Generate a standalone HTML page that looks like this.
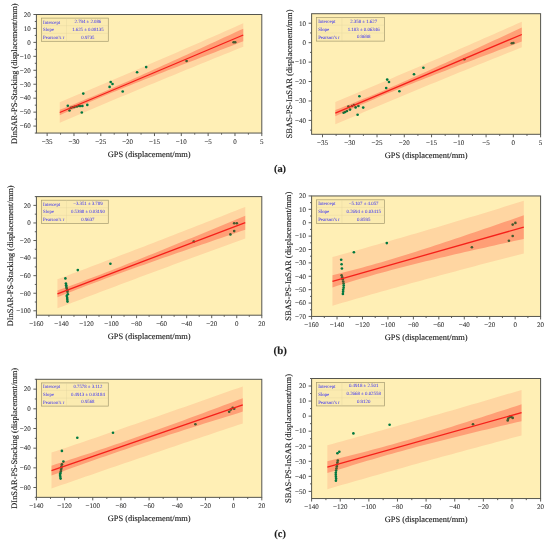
<!DOCTYPE html>
<html lang="en"><head><meta charset="utf-8"><title>Figure</title>
<style>html,body{margin:0;padding:0;background:#fff}svg{display:block;filter:blur(0.3px)}</style></head>
<body>
<svg width="550" height="542" viewBox="0 0 550 542">
<rect width="550" height="542" fill="#fff"/>
<g id="plot0">
<rect x="36.40" y="14.50" width="225.40" height="118.55" fill="#FFEFB5"/>
<path d="M59.75,102.23 L64.45,100.27 L69.16,98.30 L73.86,96.34 L78.57,94.36 L83.28,92.39 L87.98,90.41 L92.69,88.43 L97.39,86.44 L102.10,84.45 L106.81,82.46 L111.51,80.47 L116.22,78.47 L120.93,76.46 L125.63,74.46 L130.34,72.45 L135.04,70.43 L139.75,68.41 L144.46,66.39 L149.16,64.37 L153.87,62.34 L158.57,60.31 L163.28,58.28 L167.99,56.24 L172.69,54.20 L177.40,52.16 L182.11,50.11 L186.81,48.06 L191.52,46.01 L196.22,43.95 L200.93,41.89 L205.64,39.83 L210.34,37.77 L215.05,35.70 L219.75,33.63 L224.46,31.56 L229.17,29.49 L233.87,27.41 L238.58,25.33 L243.28,23.25 L243.28,46.72 L238.58,48.61 L233.87,50.51 L229.17,52.41 L224.46,54.31 L219.75,56.21 L215.05,58.12 L210.34,60.02 L205.64,61.94 L200.93,63.85 L196.22,65.77 L191.52,67.69 L186.81,69.61 L182.11,71.53 L177.40,73.46 L172.69,75.39 L167.99,77.33 L163.28,79.26 L158.57,81.21 L153.87,83.15 L149.16,85.10 L144.46,87.05 L139.75,89.00 L135.04,90.96 L130.34,92.92 L125.63,94.89 L120.93,96.85 L116.22,98.83 L111.51,100.80 L106.81,102.78 L102.10,104.76 L97.39,106.75 L92.69,108.74 L87.98,110.73 L83.28,112.73 L78.57,114.73 L73.86,116.73 L69.16,118.74 L64.45,120.75 L59.75,122.76Z" fill="rgba(255,20,10,0.108)"/>
<circle cx="67.8" cy="105.8" r="1.32" fill="#00783F"/>
<circle cx="69.5" cy="110.5" r="1.32" fill="#00783F"/>
<circle cx="70.9" cy="107.8" r="1.32" fill="#00783F"/>
<circle cx="72.7" cy="107.3" r="1.32" fill="#00783F"/>
<circle cx="74.5" cy="106.9" r="1.32" fill="#00783F"/>
<circle cx="76.9" cy="106.5" r="1.32" fill="#00783F"/>
<circle cx="79.1" cy="106.0" r="1.32" fill="#00783F"/>
<circle cx="80.5" cy="106.0" r="1.32" fill="#00783F"/>
<circle cx="82.4" cy="106.0" r="1.32" fill="#00783F"/>
<circle cx="81.8" cy="112.5" r="1.32" fill="#00783F"/>
<circle cx="87.3" cy="104.9" r="1.32" fill="#00783F"/>
<circle cx="83.3" cy="93.6" r="1.32" fill="#00783F"/>
<circle cx="109.6" cy="86.9" r="1.32" fill="#00783F"/>
<circle cx="110.7" cy="82.0" r="1.32" fill="#00783F"/>
<circle cx="112.5" cy="84.0" r="1.32" fill="#00783F"/>
<circle cx="122.7" cy="91.5" r="1.32" fill="#00783F"/>
<circle cx="137.1" cy="72.2" r="1.32" fill="#00783F"/>
<circle cx="146.2" cy="67.1" r="1.32" fill="#00783F"/>
<circle cx="186.6" cy="61.0" r="1.32" fill="#00783F"/>
<circle cx="233.6" cy="42.3" r="1.32" fill="#00783F"/>
<circle cx="235.2" cy="42.3" r="1.32" fill="#00783F"/>
<path d="M59.75,109.85 L64.45,107.96 L69.16,106.07 L73.86,104.17 L78.57,102.25 L83.28,100.32 L87.98,98.37 L92.69,96.41 L97.39,94.43 L102.10,92.44 L106.81,90.42 L111.51,88.40 L116.22,86.35 L120.93,84.30 L125.63,82.23 L130.34,80.15 L135.04,78.05 L139.75,75.95 L144.46,73.84 L149.16,71.73 L153.87,69.61 L158.57,67.48 L163.28,65.34 L167.99,63.21 L172.69,61.07 L177.40,58.92 L182.11,56.78 L186.81,54.63 L191.52,52.47 L196.22,50.32 L200.93,48.17 L205.64,46.01 L210.34,43.85 L215.05,41.69 L219.75,39.53 L224.46,37.37 L229.17,35.20 L233.87,33.04 L238.58,30.87 L243.28,28.71 L243.28,41.26 L238.58,43.07 L233.87,44.88 L229.17,46.69 L224.46,48.50 L219.75,50.31 L215.05,52.13 L210.34,53.94 L205.64,55.76 L200.93,57.58 L196.22,59.40 L191.52,61.22 L186.81,63.04 L182.11,64.87 L177.40,66.69 L172.69,68.53 L167.99,70.36 L163.28,72.20 L158.57,74.04 L153.87,75.89 L149.16,77.74 L144.46,79.60 L139.75,81.46 L135.04,83.34 L130.34,85.22 L125.63,87.11 L120.93,89.02 L116.22,90.94 L111.51,92.87 L106.81,94.82 L102.10,96.78 L97.39,98.76 L92.69,100.76 L87.98,102.77 L83.28,104.80 L78.57,106.84 L73.86,108.90 L69.16,110.97 L64.45,113.05 L59.75,115.15Z" fill="rgba(255,10,0,0.27)"/>
<line x1="59.75" y1="112.50" x2="243.28" y2="34.98" stroke="#F5201A" stroke-width="1.3"/>
<rect x="36.40" y="14.50" width="225.40" height="118.55" fill="none" stroke="#55554e" stroke-width="1.0"/>
<path d="M47.13,133.05v3 M73.97,133.05v3 M100.80,133.05v3 M127.63,133.05v3 M154.47,133.05v3 M181.30,133.05v3 M208.13,133.05v3 M234.97,133.05v3 M261.80,133.05v3 M60.55,133.05v1.6 M87.38,133.05v1.6 M114.22,133.05v1.6 M141.05,133.05v1.6 M167.88,133.05v1.6 M194.72,133.05v1.6 M221.55,133.05v1.6 M248.38,133.05v1.6 M36.40,126.08h-3 M36.40,112.13h-3 M36.40,98.18h-3 M36.40,84.24h-3 M36.40,70.29h-3 M36.40,56.34h-3 M36.40,42.39h-3 M36.40,28.45h-3 M36.40,14.50h-3 M36.40,133.05h-1.6 M36.40,119.10h-1.6 M36.40,105.16h-1.6 M36.40,91.21h-1.6 M36.40,77.26h-1.6 M36.40,63.31h-1.6 M36.40,49.37h-1.6 M36.40,35.42h-1.6 M36.40,21.47h-1.6" stroke="#55554e" stroke-width="0.95" fill="none"/>
<text x="47.13" y="143.75" font-size="7.0" text-anchor="middle" fill="#333" stroke="#333" stroke-width="0.08" font-family="'Liberation Serif','Times New Roman',serif" text-rendering="geometricPrecision">−35</text>
<text x="73.97" y="143.75" font-size="7.0" text-anchor="middle" fill="#333" stroke="#333" stroke-width="0.08" font-family="'Liberation Serif','Times New Roman',serif" text-rendering="geometricPrecision">−30</text>
<text x="100.80" y="143.75" font-size="7.0" text-anchor="middle" fill="#333" stroke="#333" stroke-width="0.08" font-family="'Liberation Serif','Times New Roman',serif" text-rendering="geometricPrecision">−25</text>
<text x="127.63" y="143.75" font-size="7.0" text-anchor="middle" fill="#333" stroke="#333" stroke-width="0.08" font-family="'Liberation Serif','Times New Roman',serif" text-rendering="geometricPrecision">−20</text>
<text x="154.47" y="143.75" font-size="7.0" text-anchor="middle" fill="#333" stroke="#333" stroke-width="0.08" font-family="'Liberation Serif','Times New Roman',serif" text-rendering="geometricPrecision">−15</text>
<text x="181.30" y="143.75" font-size="7.0" text-anchor="middle" fill="#333" stroke="#333" stroke-width="0.08" font-family="'Liberation Serif','Times New Roman',serif" text-rendering="geometricPrecision">−10</text>
<text x="208.13" y="143.75" font-size="7.0" text-anchor="middle" fill="#333" stroke="#333" stroke-width="0.08" font-family="'Liberation Serif','Times New Roman',serif" text-rendering="geometricPrecision">−5</text>
<text x="234.97" y="143.75" font-size="7.0" text-anchor="middle" fill="#333" stroke="#333" stroke-width="0.08" font-family="'Liberation Serif','Times New Roman',serif" text-rendering="geometricPrecision">0</text>
<text x="261.80" y="143.75" font-size="7.0" text-anchor="middle" fill="#333" stroke="#333" stroke-width="0.08" font-family="'Liberation Serif','Times New Roman',serif" text-rendering="geometricPrecision">5</text>
<text x="30.80" y="128.38" font-size="7.0" text-anchor="end" fill="#333" stroke="#333" stroke-width="0.08" font-family="'Liberation Serif','Times New Roman',serif" text-rendering="geometricPrecision">−60</text>
<text x="30.80" y="114.43" font-size="7.0" text-anchor="end" fill="#333" stroke="#333" stroke-width="0.08" font-family="'Liberation Serif','Times New Roman',serif" text-rendering="geometricPrecision">−50</text>
<text x="30.80" y="100.48" font-size="7.0" text-anchor="end" fill="#333" stroke="#333" stroke-width="0.08" font-family="'Liberation Serif','Times New Roman',serif" text-rendering="geometricPrecision">−40</text>
<text x="30.80" y="86.54" font-size="7.0" text-anchor="end" fill="#333" stroke="#333" stroke-width="0.08" font-family="'Liberation Serif','Times New Roman',serif" text-rendering="geometricPrecision">−30</text>
<text x="30.80" y="72.59" font-size="7.0" text-anchor="end" fill="#333" stroke="#333" stroke-width="0.08" font-family="'Liberation Serif','Times New Roman',serif" text-rendering="geometricPrecision">−20</text>
<text x="30.80" y="58.64" font-size="7.0" text-anchor="end" fill="#333" stroke="#333" stroke-width="0.08" font-family="'Liberation Serif','Times New Roman',serif" text-rendering="geometricPrecision">−10</text>
<text x="30.80" y="44.69" font-size="7.0" text-anchor="end" fill="#333" stroke="#333" stroke-width="0.08" font-family="'Liberation Serif','Times New Roman',serif" text-rendering="geometricPrecision">0</text>
<text x="30.80" y="30.75" font-size="7.0" text-anchor="end" fill="#333" stroke="#333" stroke-width="0.08" font-family="'Liberation Serif','Times New Roman',serif" text-rendering="geometricPrecision">10</text>
<text x="30.80" y="16.80" font-size="7.0" text-anchor="end" fill="#333" stroke="#333" stroke-width="0.08" font-family="'Liberation Serif','Times New Roman',serif" text-rendering="geometricPrecision">20</text>
<text x="149.10" y="156.95" font-size="8.4" text-anchor="middle" textLength="82.8" lengthAdjust="spacingAndGlyphs" fill="#1c1c1c" stroke="#1c1c1c" stroke-width="0.13" font-family="'Liberation Serif','Times New Roman',serif" text-rendering="geometricPrecision">GPS (displacement/mm)</text>
<text transform="translate(16.50,73.78) rotate(-90)" font-size="8.4" text-anchor="middle" textLength="140.7" lengthAdjust="spacingAndGlyphs" fill="#1c1c1c" stroke="#1c1c1c" stroke-width="0.13" font-family="'Liberation Serif','Times New Roman',serif" text-rendering="geometricPrecision">DInSAR-PS-Stacking (displacement/mm)</text>
<rect x="41.50" y="18.10" width="66.80" height="23.20" fill="#FBEBB0" stroke="#a59b70" stroke-width="0.7"/>
<path d="M41.50,25.60h66.80 M41.50,33.30h66.80 M66.50,18.10v23.20" stroke="#ddd09c" stroke-width="0.3" fill="none"/>
<text x="43.10" y="23.60" font-size="4.80" fill="#4038F2" stroke="#4038F2" stroke-width="0.03" font-family="'Liberation Serif','Times New Roman',serif" text-rendering="geometricPrecision">Intercept</text>
<text x="87.90" y="23.10" font-size="4.80" text-anchor="middle" fill="#4038F2" stroke="#4038F2" stroke-width="0.03" font-family="'Liberation Serif','Times New Roman',serif" text-rendering="geometricPrecision">2.794 ± 2.086</text>
<text x="43.10" y="31.35" font-size="4.80" fill="#4038F2" stroke="#4038F2" stroke-width="0.03" font-family="'Liberation Serif','Times New Roman',serif" text-rendering="geometricPrecision">Slope</text>
<text x="87.90" y="30.85" font-size="4.80" text-anchor="middle" fill="#4038F2" stroke="#4038F2" stroke-width="0.03" font-family="'Liberation Serif','Times New Roman',serif" text-rendering="geometricPrecision">1.625 ± 0.08135</text>
<text x="43.10" y="39.10" font-size="4.80" fill="#4038F2" stroke="#4038F2" stroke-width="0.03" font-family="'Liberation Serif','Times New Roman',serif" text-rendering="geometricPrecision">Pearson’s r</text>
<text x="87.90" y="38.60" font-size="4.80" text-anchor="middle" fill="#4038F2" stroke="#4038F2" stroke-width="0.03" font-family="'Liberation Serif','Times New Roman',serif" text-rendering="geometricPrecision">0.9735</text>
</g>
<g id="plot1">
<rect x="311.60" y="13.70" width="229.00" height="120.60" fill="#FFEFB5"/>
<path d="M335.32,101.93 L340.10,99.95 L344.88,97.97 L349.66,95.98 L354.44,93.99 L359.22,91.99 L364.01,89.99 L368.79,87.99 L373.57,85.98 L378.35,83.97 L383.13,81.95 L387.91,79.93 L392.69,77.90 L397.48,75.87 L402.26,73.83 L407.04,71.79 L411.82,69.75 L416.60,67.70 L421.38,65.65 L426.16,63.59 L430.94,61.53 L435.73,59.47 L440.51,57.40 L445.29,55.32 L450.07,53.25 L454.85,51.17 L459.63,49.08 L464.41,46.99 L469.19,44.90 L473.98,42.80 L478.76,40.70 L483.54,38.60 L488.32,36.49 L493.10,34.38 L497.88,32.27 L502.66,30.16 L507.45,28.04 L512.23,25.91 L517.01,23.79 L521.79,21.66 L521.79,47.37 L517.01,49.27 L512.23,51.18 L507.45,53.09 L502.66,55.00 L497.88,56.92 L493.10,58.84 L488.32,60.76 L483.54,62.68 L478.76,64.61 L473.98,66.55 L469.19,68.48 L464.41,70.42 L459.63,72.37 L454.85,74.32 L450.07,76.27 L445.29,78.22 L440.51,80.18 L435.73,82.15 L430.94,84.11 L426.16,86.08 L421.38,88.06 L416.60,90.04 L411.82,92.02 L407.04,94.01 L402.26,96.01 L397.48,98.00 L392.69,100.00 L387.91,102.01 L383.13,104.02 L378.35,106.04 L373.57,108.06 L368.79,110.08 L364.01,112.11 L359.22,114.14 L354.44,116.18 L349.66,118.22 L344.88,120.26 L340.10,122.31 L335.32,124.37Z" fill="rgba(255,20,10,0.108)"/>
<circle cx="343.6" cy="112.8" r="1.32" fill="#00783F"/>
<circle cx="345.2" cy="112.0" r="1.32" fill="#00783F"/>
<circle cx="347.0" cy="111.0" r="1.32" fill="#00783F"/>
<circle cx="348.4" cy="106.6" r="1.32" fill="#00783F"/>
<circle cx="350.0" cy="109.6" r="1.32" fill="#00783F"/>
<circle cx="352.0" cy="106.0" r="1.32" fill="#00783F"/>
<circle cx="354.0" cy="105.0" r="1.32" fill="#00783F"/>
<circle cx="355.6" cy="107.4" r="1.32" fill="#00783F"/>
<circle cx="358.4" cy="106.0" r="1.32" fill="#00783F"/>
<circle cx="357.6" cy="114.8" r="1.32" fill="#00783F"/>
<circle cx="363.2" cy="107.6" r="1.32" fill="#00783F"/>
<circle cx="359.4" cy="96.2" r="1.32" fill="#00783F"/>
<circle cx="386.2" cy="88.0" r="1.32" fill="#00783F"/>
<circle cx="387.2" cy="79.6" r="1.32" fill="#00783F"/>
<circle cx="389.0" cy="82.0" r="1.32" fill="#00783F"/>
<circle cx="399.4" cy="91.2" r="1.32" fill="#00783F"/>
<circle cx="414.0" cy="74.2" r="1.32" fill="#00783F"/>
<circle cx="423.4" cy="67.8" r="1.32" fill="#00783F"/>
<circle cx="464.3" cy="59.3" r="1.32" fill="#00783F"/>
<circle cx="511.8" cy="43.2" r="1.32" fill="#00783F"/>
<circle cx="513.4" cy="43.0" r="1.32" fill="#00783F"/>
<path d="M335.32,110.04 L340.10,108.16 L344.88,106.27 L349.66,104.38 L354.44,102.46 L359.22,100.54 L364.01,98.59 L368.79,96.63 L373.57,94.65 L378.35,92.65 L383.13,90.63 L387.91,88.58 L392.69,86.52 L397.48,84.44 L402.26,82.34 L407.04,80.22 L411.82,78.09 L416.60,75.95 L421.38,73.80 L426.16,71.64 L430.94,69.47 L435.73,67.29 L440.51,65.11 L445.29,62.92 L450.07,60.73 L454.85,58.53 L459.63,56.33 L464.41,54.12 L469.19,51.91 L473.98,49.70 L478.76,47.49 L483.54,45.28 L488.32,43.06 L493.10,40.85 L497.88,38.63 L502.66,36.41 L507.45,34.19 L512.23,31.96 L517.01,29.74 L521.79,27.52 L521.79,41.51 L517.01,43.32 L512.23,45.13 L507.45,46.94 L502.66,48.75 L497.88,50.56 L493.10,52.38 L488.32,54.19 L483.54,56.01 L478.76,57.83 L473.98,59.65 L469.19,61.47 L464.41,63.29 L459.63,65.12 L454.85,66.95 L450.07,68.79 L445.29,70.63 L440.51,72.47 L435.73,74.32 L430.94,76.17 L426.16,78.04 L421.38,79.91 L416.60,81.79 L411.82,83.68 L407.04,85.58 L402.26,87.50 L397.48,89.43 L392.69,91.39 L387.91,93.35 L383.13,95.34 L378.35,97.35 L373.57,99.39 L368.79,101.44 L364.01,103.51 L359.22,105.60 L354.44,107.70 L349.66,109.82 L344.88,111.96 L340.10,114.10 L335.32,116.26Z" fill="rgba(255,10,0,0.27)"/>
<line x1="335.32" y1="113.15" x2="521.79" y2="34.51" stroke="#F5201A" stroke-width="1.3"/>
<rect x="311.60" y="13.70" width="229.00" height="120.60" fill="none" stroke="#55554e" stroke-width="1.0"/>
<path d="M322.50,134.30v3 M349.77,134.30v3 M377.03,134.30v3 M404.29,134.30v3 M431.55,134.30v3 M458.81,134.30v3 M486.08,134.30v3 M513.34,134.30v3 M540.60,134.30v3 M336.14,134.30v1.6 M363.40,134.30v1.6 M390.66,134.30v1.6 M417.92,134.30v1.6 M445.18,134.30v1.6 M472.45,134.30v1.6 M499.71,134.30v1.6 M526.97,134.30v1.6 M311.60,120.40h-3 M311.60,100.97h-3 M311.60,81.53h-3 M311.60,62.10h-3 M311.60,42.66h-3 M311.60,23.22h-3 M311.60,130.12h-1.6 M311.60,110.69h-1.6 M311.60,91.25h-1.6 M311.60,71.81h-1.6 M311.60,52.38h-1.6 M311.60,32.94h-1.6" stroke="#55554e" stroke-width="0.95" fill="none"/>
<text x="322.50" y="145.00" font-size="7.0" text-anchor="middle" fill="#333" stroke="#333" stroke-width="0.08" font-family="'Liberation Serif','Times New Roman',serif" text-rendering="geometricPrecision">−35</text>
<text x="349.77" y="145.00" font-size="7.0" text-anchor="middle" fill="#333" stroke="#333" stroke-width="0.08" font-family="'Liberation Serif','Times New Roman',serif" text-rendering="geometricPrecision">−30</text>
<text x="377.03" y="145.00" font-size="7.0" text-anchor="middle" fill="#333" stroke="#333" stroke-width="0.08" font-family="'Liberation Serif','Times New Roman',serif" text-rendering="geometricPrecision">−25</text>
<text x="404.29" y="145.00" font-size="7.0" text-anchor="middle" fill="#333" stroke="#333" stroke-width="0.08" font-family="'Liberation Serif','Times New Roman',serif" text-rendering="geometricPrecision">−20</text>
<text x="431.55" y="145.00" font-size="7.0" text-anchor="middle" fill="#333" stroke="#333" stroke-width="0.08" font-family="'Liberation Serif','Times New Roman',serif" text-rendering="geometricPrecision">−15</text>
<text x="458.81" y="145.00" font-size="7.0" text-anchor="middle" fill="#333" stroke="#333" stroke-width="0.08" font-family="'Liberation Serif','Times New Roman',serif" text-rendering="geometricPrecision">−10</text>
<text x="486.08" y="145.00" font-size="7.0" text-anchor="middle" fill="#333" stroke="#333" stroke-width="0.08" font-family="'Liberation Serif','Times New Roman',serif" text-rendering="geometricPrecision">−5</text>
<text x="513.34" y="145.00" font-size="7.0" text-anchor="middle" fill="#333" stroke="#333" stroke-width="0.08" font-family="'Liberation Serif','Times New Roman',serif" text-rendering="geometricPrecision">0</text>
<text x="540.60" y="145.00" font-size="7.0" text-anchor="middle" fill="#333" stroke="#333" stroke-width="0.08" font-family="'Liberation Serif','Times New Roman',serif" text-rendering="geometricPrecision">5</text>
<text x="306.00" y="122.70" font-size="7.0" text-anchor="end" fill="#333" stroke="#333" stroke-width="0.08" font-family="'Liberation Serif','Times New Roman',serif" text-rendering="geometricPrecision">−40</text>
<text x="306.00" y="103.27" font-size="7.0" text-anchor="end" fill="#333" stroke="#333" stroke-width="0.08" font-family="'Liberation Serif','Times New Roman',serif" text-rendering="geometricPrecision">−30</text>
<text x="306.00" y="83.83" font-size="7.0" text-anchor="end" fill="#333" stroke="#333" stroke-width="0.08" font-family="'Liberation Serif','Times New Roman',serif" text-rendering="geometricPrecision">−20</text>
<text x="306.00" y="64.40" font-size="7.0" text-anchor="end" fill="#333" stroke="#333" stroke-width="0.08" font-family="'Liberation Serif','Times New Roman',serif" text-rendering="geometricPrecision">−10</text>
<text x="306.00" y="44.96" font-size="7.0" text-anchor="end" fill="#333" stroke="#333" stroke-width="0.08" font-family="'Liberation Serif','Times New Roman',serif" text-rendering="geometricPrecision">0</text>
<text x="306.00" y="25.52" font-size="7.0" text-anchor="end" fill="#333" stroke="#333" stroke-width="0.08" font-family="'Liberation Serif','Times New Roman',serif" text-rendering="geometricPrecision">10</text>
<text x="426.10" y="158.20" font-size="8.4" text-anchor="middle" textLength="82.8" lengthAdjust="spacingAndGlyphs" fill="#1c1c1c" stroke="#1c1c1c" stroke-width="0.13" font-family="'Liberation Serif','Times New Roman',serif" text-rendering="geometricPrecision">GPS (displacement/mm)</text>
<text transform="translate(291.70,74.00) rotate(-90)" font-size="8.4" text-anchor="middle" textLength="129.0" lengthAdjust="spacingAndGlyphs" fill="#1c1c1c" stroke="#1c1c1c" stroke-width="0.13" font-family="'Liberation Serif','Times New Roman',serif" text-rendering="geometricPrecision">SBAS-PS-InSAR (displacement/mm)</text>
<rect x="316.53" y="17.56" width="67.87" height="23.57" fill="#FBEBB0" stroke="#a59b70" stroke-width="0.7"/>
<path d="M316.53,25.18h67.87 M316.53,33.00h67.87 M341.93,17.56v23.57" stroke="#ddd09c" stroke-width="0.3" fill="none"/>
<text x="318.16" y="23.15" font-size="4.88" fill="#4038F2" stroke="#4038F2" stroke-width="0.03" font-family="'Liberation Serif','Times New Roman',serif" text-rendering="geometricPrecision">Intercept</text>
<text x="363.67" y="22.65" font-size="4.88" text-anchor="middle" fill="#4038F2" stroke="#4038F2" stroke-width="0.03" font-family="'Liberation Serif','Times New Roman',serif" text-rendering="geometricPrecision">2.358 ± 1.627</text>
<text x="318.16" y="31.02" font-size="4.88" fill="#4038F2" stroke="#4038F2" stroke-width="0.03" font-family="'Liberation Serif','Times New Roman',serif" text-rendering="geometricPrecision">Slope</text>
<text x="363.67" y="30.52" font-size="4.88" text-anchor="middle" fill="#4038F2" stroke="#4038F2" stroke-width="0.03" font-family="'Liberation Serif','Times New Roman',serif" text-rendering="geometricPrecision">1.183 ± 0.06346</text>
<text x="318.16" y="38.89" font-size="4.88" fill="#4038F2" stroke="#4038F2" stroke-width="0.03" font-family="'Liberation Serif','Times New Roman',serif" text-rendering="geometricPrecision">Pearson’s r</text>
<text x="363.67" y="38.39" font-size="4.88" text-anchor="middle" fill="#4038F2" stroke="#4038F2" stroke-width="0.03" font-family="'Liberation Serif','Times New Roman',serif" text-rendering="geometricPrecision">0.9698</text>
</g>
<g id="plot2">
<rect x="36.40" y="196.60" width="225.40" height="118.60" fill="#FFEFB5"/>
<path d="M57.44,279.29 L62.25,277.48 L67.07,275.68 L71.89,273.87 L76.70,272.05 L81.52,270.24 L86.33,268.42 L91.15,266.60 L95.97,264.77 L100.78,262.95 L105.60,261.12 L110.42,259.28 L115.23,257.45 L120.05,255.61 L124.86,253.77 L129.68,251.92 L134.50,250.08 L139.31,248.23 L144.13,246.38 L148.95,244.52 L153.76,242.66 L158.58,240.80 L163.39,238.94 L168.21,237.08 L173.03,235.21 L177.84,233.34 L182.66,231.46 L187.48,229.59 L192.29,227.71 L197.11,225.83 L201.92,223.95 L206.74,222.06 L211.56,220.17 L216.37,218.28 L221.19,216.39 L226.01,214.49 L230.82,212.60 L235.64,210.70 L240.45,208.80 L245.27,206.89 L245.27,238.46 L240.45,240.20 L235.64,241.95 L230.82,243.70 L226.01,245.45 L221.19,247.20 L216.37,248.95 L211.56,250.71 L206.74,252.47 L201.92,254.23 L197.11,256.00 L192.29,257.77 L187.48,259.54 L182.66,261.31 L177.84,263.08 L173.03,264.86 L168.21,266.64 L163.39,268.42 L158.58,270.21 L153.76,271.99 L148.95,273.78 L144.13,275.58 L139.31,277.37 L134.50,279.17 L129.68,280.97 L124.86,282.78 L120.05,284.58 L115.23,286.39 L110.42,288.21 L105.60,290.02 L100.78,291.84 L95.97,293.66 L91.15,295.49 L86.33,297.31 L81.52,299.14 L76.70,300.97 L71.89,302.81 L67.07,304.65 L62.25,306.49 L57.44,308.33Z" fill="rgba(255,20,10,0.108)"/>
<circle cx="65.4" cy="278.4" r="1.32" fill="#00783F"/>
<circle cx="65.9" cy="283.6" r="1.32" fill="#00783F"/>
<circle cx="66.2" cy="285.3" r="1.32" fill="#00783F"/>
<circle cx="66.4" cy="286.9" r="1.32" fill="#00783F"/>
<circle cx="66.7" cy="288.5" r="1.32" fill="#00783F"/>
<circle cx="67.2" cy="290.2" r="1.32" fill="#00783F"/>
<circle cx="67.5" cy="291.8" r="1.32" fill="#00783F"/>
<circle cx="67.8" cy="294.3" r="1.32" fill="#00783F"/>
<circle cx="66.8" cy="295.9" r="1.32" fill="#00783F"/>
<circle cx="67.2" cy="297.9" r="1.32" fill="#00783F"/>
<circle cx="67.3" cy="299.7" r="1.32" fill="#00783F"/>
<circle cx="67.5" cy="301.6" r="1.32" fill="#00783F"/>
<circle cx="77.8" cy="270.1" r="1.32" fill="#00783F"/>
<circle cx="110.4" cy="263.7" r="1.32" fill="#00783F"/>
<circle cx="234.2" cy="223.2" r="1.32" fill="#00783F"/>
<circle cx="236.8" cy="223.2" r="1.32" fill="#00783F"/>
<circle cx="234.2" cy="231.1" r="1.32" fill="#00783F"/>
<circle cx="230.4" cy="234.4" r="1.32" fill="#00783F"/>
<circle cx="193.8" cy="241.6" r="1.32" fill="#00783F"/>
<path d="M57.44,290.47 L62.25,288.73 L67.07,286.98 L71.89,285.22 L76.70,283.45 L81.52,281.66 L86.33,279.87 L91.15,278.05 L95.97,276.23 L100.78,274.39 L105.60,272.54 L110.42,270.67 L115.23,268.80 L120.05,266.91 L124.86,265.01 L129.68,263.09 L134.50,261.17 L139.31,259.25 L144.13,257.31 L148.95,255.36 L153.76,253.41 L158.58,251.46 L163.39,249.49 L168.21,247.52 L173.03,245.55 L177.84,243.58 L182.66,241.60 L187.48,239.61 L192.29,237.63 L197.11,235.64 L201.92,233.65 L206.74,231.65 L211.56,229.66 L216.37,227.66 L221.19,225.66 L226.01,223.66 L230.82,221.66 L235.64,219.66 L240.45,217.65 L245.27,215.65 L245.27,229.70 L240.45,231.35 L235.64,232.99 L230.82,234.63 L226.01,236.28 L221.19,237.93 L216.37,239.57 L211.56,241.23 L206.74,242.88 L201.92,244.53 L197.11,246.19 L192.29,247.85 L187.48,249.51 L182.66,251.17 L177.84,252.84 L173.03,254.51 L168.21,256.19 L163.39,257.87 L158.58,259.56 L153.76,261.25 L148.95,262.94 L144.13,264.65 L139.31,266.36 L134.50,268.08 L129.68,269.80 L124.86,271.54 L120.05,273.29 L115.23,275.05 L110.42,276.82 L105.60,278.60 L100.78,280.40 L95.97,282.21 L91.15,284.03 L86.33,285.86 L81.52,287.71 L76.70,289.58 L71.89,291.45 L67.07,293.34 L62.25,295.24 L57.44,297.15Z" fill="rgba(255,10,0,0.27)"/>
<line x1="57.44" y1="293.81" x2="245.27" y2="222.67" stroke="#F5201A" stroke-width="1.3"/>
<rect x="36.40" y="196.60" width="225.40" height="118.60" fill="none" stroke="#55554e" stroke-width="1.0"/>
<path d="M36.40,315.20v3 M61.44,315.20v3 M86.49,315.20v3 M111.53,315.20v3 M136.58,315.20v3 M161.62,315.20v3 M186.67,315.20v3 M211.71,315.20v3 M236.76,315.20v3 M261.80,315.20v3 M48.92,315.20v1.6 M73.97,315.20v1.6 M99.01,315.20v1.6 M124.06,315.20v1.6 M149.10,315.20v1.6 M174.14,315.20v1.6 M199.19,315.20v1.6 M224.23,315.20v1.6 M249.28,315.20v1.6 M36.40,310.81h-3 M36.40,293.24h-3 M36.40,275.67h-3 M36.40,258.10h-3 M36.40,240.53h-3 M36.40,222.96h-3 M36.40,205.39h-3 M36.40,302.02h-1.6 M36.40,284.45h-1.6 M36.40,266.88h-1.6 M36.40,249.31h-1.6 M36.40,231.74h-1.6 M36.40,214.17h-1.6 M36.40,196.60h-1.6" stroke="#55554e" stroke-width="0.95" fill="none"/>
<text x="36.40" y="325.90" font-size="7.0" text-anchor="middle" fill="#333" stroke="#333" stroke-width="0.08" font-family="'Liberation Serif','Times New Roman',serif" text-rendering="geometricPrecision">−160</text>
<text x="61.44" y="325.90" font-size="7.0" text-anchor="middle" fill="#333" stroke="#333" stroke-width="0.08" font-family="'Liberation Serif','Times New Roman',serif" text-rendering="geometricPrecision">−140</text>
<text x="86.49" y="325.90" font-size="7.0" text-anchor="middle" fill="#333" stroke="#333" stroke-width="0.08" font-family="'Liberation Serif','Times New Roman',serif" text-rendering="geometricPrecision">−120</text>
<text x="111.53" y="325.90" font-size="7.0" text-anchor="middle" fill="#333" stroke="#333" stroke-width="0.08" font-family="'Liberation Serif','Times New Roman',serif" text-rendering="geometricPrecision">−100</text>
<text x="136.58" y="325.90" font-size="7.0" text-anchor="middle" fill="#333" stroke="#333" stroke-width="0.08" font-family="'Liberation Serif','Times New Roman',serif" text-rendering="geometricPrecision">−80</text>
<text x="161.62" y="325.90" font-size="7.0" text-anchor="middle" fill="#333" stroke="#333" stroke-width="0.08" font-family="'Liberation Serif','Times New Roman',serif" text-rendering="geometricPrecision">−60</text>
<text x="186.67" y="325.90" font-size="7.0" text-anchor="middle" fill="#333" stroke="#333" stroke-width="0.08" font-family="'Liberation Serif','Times New Roman',serif" text-rendering="geometricPrecision">−40</text>
<text x="211.71" y="325.90" font-size="7.0" text-anchor="middle" fill="#333" stroke="#333" stroke-width="0.08" font-family="'Liberation Serif','Times New Roman',serif" text-rendering="geometricPrecision">−20</text>
<text x="236.76" y="325.90" font-size="7.0" text-anchor="middle" fill="#333" stroke="#333" stroke-width="0.08" font-family="'Liberation Serif','Times New Roman',serif" text-rendering="geometricPrecision">0</text>
<text x="261.80" y="325.90" font-size="7.0" text-anchor="middle" fill="#333" stroke="#333" stroke-width="0.08" font-family="'Liberation Serif','Times New Roman',serif" text-rendering="geometricPrecision">20</text>
<text x="30.80" y="313.11" font-size="7.0" text-anchor="end" fill="#333" stroke="#333" stroke-width="0.08" font-family="'Liberation Serif','Times New Roman',serif" text-rendering="geometricPrecision">−100</text>
<text x="30.80" y="295.54" font-size="7.0" text-anchor="end" fill="#333" stroke="#333" stroke-width="0.08" font-family="'Liberation Serif','Times New Roman',serif" text-rendering="geometricPrecision">−80</text>
<text x="30.80" y="277.97" font-size="7.0" text-anchor="end" fill="#333" stroke="#333" stroke-width="0.08" font-family="'Liberation Serif','Times New Roman',serif" text-rendering="geometricPrecision">−60</text>
<text x="30.80" y="260.40" font-size="7.0" text-anchor="end" fill="#333" stroke="#333" stroke-width="0.08" font-family="'Liberation Serif','Times New Roman',serif" text-rendering="geometricPrecision">−40</text>
<text x="30.80" y="242.83" font-size="7.0" text-anchor="end" fill="#333" stroke="#333" stroke-width="0.08" font-family="'Liberation Serif','Times New Roman',serif" text-rendering="geometricPrecision">−20</text>
<text x="30.80" y="225.26" font-size="7.0" text-anchor="end" fill="#333" stroke="#333" stroke-width="0.08" font-family="'Liberation Serif','Times New Roman',serif" text-rendering="geometricPrecision">0</text>
<text x="30.80" y="207.69" font-size="7.0" text-anchor="end" fill="#333" stroke="#333" stroke-width="0.08" font-family="'Liberation Serif','Times New Roman',serif" text-rendering="geometricPrecision">20</text>
<text x="149.10" y="339.10" font-size="8.4" text-anchor="middle" textLength="82.8" lengthAdjust="spacingAndGlyphs" fill="#1c1c1c" stroke="#1c1c1c" stroke-width="0.13" font-family="'Liberation Serif','Times New Roman',serif" text-rendering="geometricPrecision">GPS (displacement/mm)</text>
<text transform="translate(13.10,255.90) rotate(-90)" font-size="8.4" text-anchor="middle" textLength="140.7" lengthAdjust="spacingAndGlyphs" fill="#1c1c1c" stroke="#1c1c1c" stroke-width="0.13" font-family="'Liberation Serif','Times New Roman',serif" text-rendering="geometricPrecision">DInSAR-PS-Stacking (displacement/mm)</text>
<rect x="41.50" y="200.20" width="66.80" height="23.20" fill="#FBEBB0" stroke="#a59b70" stroke-width="0.7"/>
<path d="M41.50,207.70h66.80 M41.50,215.40h66.80 M66.50,200.20v23.20" stroke="#ddd09c" stroke-width="0.3" fill="none"/>
<text x="43.10" y="205.70" font-size="4.80" fill="#4038F2" stroke="#4038F2" stroke-width="0.03" font-family="'Liberation Serif','Times New Roman',serif" text-rendering="geometricPrecision">Intercept</text>
<text x="87.90" y="205.20" font-size="4.80" text-anchor="middle" fill="#4038F2" stroke="#4038F2" stroke-width="0.03" font-family="'Liberation Serif','Times New Roman',serif" text-rendering="geometricPrecision">−3.351 ± 3.789</text>
<text x="43.10" y="213.45" font-size="4.80" fill="#4038F2" stroke="#4038F2" stroke-width="0.03" font-family="'Liberation Serif','Times New Roman',serif" text-rendering="geometricPrecision">Slope</text>
<text x="87.90" y="212.95" font-size="4.80" text-anchor="middle" fill="#4038F2" stroke="#4038F2" stroke-width="0.03" font-family="'Liberation Serif','Times New Roman',serif" text-rendering="geometricPrecision">0.5398 ± 0.03190</text>
<text x="43.10" y="221.20" font-size="4.80" fill="#4038F2" stroke="#4038F2" stroke-width="0.03" font-family="'Liberation Serif','Times New Roman',serif" text-rendering="geometricPrecision">Pearson’s r</text>
<text x="87.90" y="220.70" font-size="4.80" text-anchor="middle" fill="#4038F2" stroke="#4038F2" stroke-width="0.03" font-family="'Liberation Serif','Times New Roman',serif" text-rendering="geometricPrecision">0.9637</text>
</g>
<g id="plot3">
<rect x="311.60" y="195.95" width="229.00" height="120.50" fill="#FFEFB5"/>
<path d="M332.46,257.06 L337.37,255.71 L342.28,254.35 L347.18,252.99 L352.09,251.62 L357.00,250.25 L361.90,248.88 L366.81,247.50 L371.71,246.11 L376.62,244.72 L381.53,243.32 L386.43,241.92 L391.34,240.52 L396.25,239.10 L401.15,237.69 L406.06,236.27 L410.96,234.84 L415.87,233.41 L420.78,231.98 L425.68,230.54 L430.59,229.09 L435.49,227.64 L440.40,226.19 L445.31,224.73 L450.21,223.27 L455.12,221.80 L460.03,220.32 L464.93,218.85 L469.84,217.37 L474.74,215.88 L479.65,214.39 L484.56,212.89 L489.46,211.40 L494.37,209.89 L499.28,208.38 L504.18,206.87 L509.09,205.36 L513.99,203.84 L518.90,202.31 L523.81,200.79 L523.81,253.44 L518.90,254.69 L513.99,255.95 L509.09,257.21 L504.18,258.48 L499.28,259.75 L494.37,261.03 L489.46,262.30 L484.56,263.59 L479.65,264.87 L474.74,266.17 L469.84,267.46 L464.93,268.76 L460.03,270.07 L455.12,271.38 L450.21,272.69 L445.31,274.01 L440.40,275.33 L435.49,276.66 L430.59,277.99 L425.68,279.33 L420.78,280.67 L415.87,282.02 L410.96,283.37 L406.06,284.72 L401.15,286.09 L396.25,287.45 L391.34,288.82 L386.43,290.20 L381.53,291.58 L376.62,292.97 L371.71,294.36 L366.81,295.75 L361.90,297.15 L357.00,298.56 L352.09,299.97 L347.18,301.39 L342.28,302.81 L337.37,304.23 L332.46,305.66Z" fill="rgba(255,20,10,0.108)"/>
<circle cx="341.2" cy="259.7" r="1.32" fill="#00783F"/>
<circle cx="341.6" cy="264.2" r="1.32" fill="#00783F"/>
<circle cx="341.9" cy="268.5" r="1.32" fill="#00783F"/>
<circle cx="341.6" cy="275.3" r="1.32" fill="#00783F"/>
<circle cx="342.2" cy="277.3" r="1.32" fill="#00783F"/>
<circle cx="342.7" cy="279.3" r="1.32" fill="#00783F"/>
<circle cx="343.2" cy="281.5" r="1.32" fill="#00783F"/>
<circle cx="343.6" cy="283.5" r="1.32" fill="#00783F"/>
<circle cx="343.7" cy="285.6" r="1.32" fill="#00783F"/>
<circle cx="343.6" cy="287.8" r="1.32" fill="#00783F"/>
<circle cx="343.2" cy="289.8" r="1.32" fill="#00783F"/>
<circle cx="343.1" cy="291.8" r="1.32" fill="#00783F"/>
<circle cx="342.9" cy="293.9" r="1.32" fill="#00783F"/>
<circle cx="353.9" cy="252.2" r="1.32" fill="#00783F"/>
<circle cx="386.8" cy="243.1" r="1.32" fill="#00783F"/>
<circle cx="515.4" cy="222.9" r="1.32" fill="#00783F"/>
<circle cx="512.7" cy="224.6" r="1.32" fill="#00783F"/>
<circle cx="512.7" cy="236.0" r="1.32" fill="#00783F"/>
<circle cx="508.9" cy="240.8" r="1.32" fill="#00783F"/>
<circle cx="471.9" cy="247.3" r="1.32" fill="#00783F"/>
<path d="M332.46,275.34 L337.37,274.11 L342.28,272.86 L347.18,271.59 L352.09,270.31 L357.00,269.01 L361.90,267.68 L366.81,266.34 L371.71,264.97 L376.62,263.58 L381.53,262.16 L386.43,260.73 L391.34,259.27 L396.25,257.79 L401.15,256.29 L406.06,254.77 L410.96,253.24 L415.87,251.68 L420.78,250.12 L425.68,248.54 L430.59,246.94 L435.49,245.34 L440.40,243.72 L445.31,242.10 L450.21,240.47 L455.12,238.82 L460.03,237.18 L464.93,235.52 L469.84,233.86 L474.74,232.19 L479.65,230.52 L484.56,228.85 L489.46,227.17 L494.37,225.49 L499.28,223.80 L504.18,222.11 L509.09,220.42 L513.99,218.73 L518.90,217.03 L523.81,215.33 L523.81,238.89 L518.90,239.98 L513.99,241.06 L509.09,242.15 L504.18,243.24 L499.28,244.33 L494.37,245.43 L489.46,246.53 L484.56,247.63 L479.65,248.74 L474.74,249.85 L469.84,250.97 L464.93,252.09 L460.03,253.22 L455.12,254.35 L450.21,255.49 L445.31,256.64 L440.40,257.80 L435.49,258.96 L430.59,260.14 L425.68,261.33 L420.78,262.53 L415.87,263.74 L410.96,264.98 L406.06,266.22 L401.15,267.49 L396.25,268.77 L391.34,270.07 L386.43,271.40 L381.53,272.74 L376.62,274.11 L371.71,275.50 L366.81,276.91 L361.90,278.35 L357.00,279.81 L352.09,281.28 L347.18,282.78 L342.28,284.30 L337.37,285.84 L332.46,287.39Z" fill="rgba(255,10,0,0.27)"/>
<line x1="332.46" y1="281.36" x2="523.81" y2="227.11" stroke="#F5201A" stroke-width="1.3"/>
<rect x="311.60" y="195.95" width="229.00" height="120.50" fill="none" stroke="#55554e" stroke-width="1.0"/>
<path d="M311.60,316.45v3 M337.04,316.45v3 M362.49,316.45v3 M387.93,316.45v3 M413.38,316.45v3 M438.82,316.45v3 M464.27,316.45v3 M489.71,316.45v3 M515.16,316.45v3 M540.60,316.45v3 M324.32,316.45v1.6 M349.77,316.45v1.6 M375.21,316.45v1.6 M400.66,316.45v1.6 M426.10,316.45v1.6 M451.54,316.45v1.6 M476.99,316.45v1.6 M502.43,316.45v1.6 M527.88,316.45v1.6 M311.60,316.45h-3 M311.60,303.06h-3 M311.60,289.67h-3 M311.60,276.28h-3 M311.60,262.89h-3 M311.60,249.51h-3 M311.60,236.12h-3 M311.60,222.73h-3 M311.60,209.34h-3 M311.60,195.95h-3 M311.60,309.76h-1.6 M311.60,296.37h-1.6 M311.60,282.98h-1.6 M311.60,269.59h-1.6 M311.60,256.20h-1.6 M311.60,242.81h-1.6 M311.60,229.42h-1.6 M311.60,216.03h-1.6 M311.60,202.64h-1.6" stroke="#55554e" stroke-width="0.95" fill="none"/>
<text x="311.60" y="327.15" font-size="7.0" text-anchor="middle" fill="#333" stroke="#333" stroke-width="0.08" font-family="'Liberation Serif','Times New Roman',serif" text-rendering="geometricPrecision">−160</text>
<text x="337.04" y="327.15" font-size="7.0" text-anchor="middle" fill="#333" stroke="#333" stroke-width="0.08" font-family="'Liberation Serif','Times New Roman',serif" text-rendering="geometricPrecision">−140</text>
<text x="362.49" y="327.15" font-size="7.0" text-anchor="middle" fill="#333" stroke="#333" stroke-width="0.08" font-family="'Liberation Serif','Times New Roman',serif" text-rendering="geometricPrecision">−120</text>
<text x="387.93" y="327.15" font-size="7.0" text-anchor="middle" fill="#333" stroke="#333" stroke-width="0.08" font-family="'Liberation Serif','Times New Roman',serif" text-rendering="geometricPrecision">−100</text>
<text x="413.38" y="327.15" font-size="7.0" text-anchor="middle" fill="#333" stroke="#333" stroke-width="0.08" font-family="'Liberation Serif','Times New Roman',serif" text-rendering="geometricPrecision">−80</text>
<text x="438.82" y="327.15" font-size="7.0" text-anchor="middle" fill="#333" stroke="#333" stroke-width="0.08" font-family="'Liberation Serif','Times New Roman',serif" text-rendering="geometricPrecision">−60</text>
<text x="464.27" y="327.15" font-size="7.0" text-anchor="middle" fill="#333" stroke="#333" stroke-width="0.08" font-family="'Liberation Serif','Times New Roman',serif" text-rendering="geometricPrecision">−40</text>
<text x="489.71" y="327.15" font-size="7.0" text-anchor="middle" fill="#333" stroke="#333" stroke-width="0.08" font-family="'Liberation Serif','Times New Roman',serif" text-rendering="geometricPrecision">−20</text>
<text x="515.16" y="327.15" font-size="7.0" text-anchor="middle" fill="#333" stroke="#333" stroke-width="0.08" font-family="'Liberation Serif','Times New Roman',serif" text-rendering="geometricPrecision">0</text>
<text x="540.60" y="327.15" font-size="7.0" text-anchor="middle" fill="#333" stroke="#333" stroke-width="0.08" font-family="'Liberation Serif','Times New Roman',serif" text-rendering="geometricPrecision">20</text>
<text x="306.00" y="318.75" font-size="7.0" text-anchor="end" fill="#333" stroke="#333" stroke-width="0.08" font-family="'Liberation Serif','Times New Roman',serif" text-rendering="geometricPrecision">−70</text>
<text x="306.00" y="305.36" font-size="7.0" text-anchor="end" fill="#333" stroke="#333" stroke-width="0.08" font-family="'Liberation Serif','Times New Roman',serif" text-rendering="geometricPrecision">−60</text>
<text x="306.00" y="291.97" font-size="7.0" text-anchor="end" fill="#333" stroke="#333" stroke-width="0.08" font-family="'Liberation Serif','Times New Roman',serif" text-rendering="geometricPrecision">−50</text>
<text x="306.00" y="278.58" font-size="7.0" text-anchor="end" fill="#333" stroke="#333" stroke-width="0.08" font-family="'Liberation Serif','Times New Roman',serif" text-rendering="geometricPrecision">−40</text>
<text x="306.00" y="265.19" font-size="7.0" text-anchor="end" fill="#333" stroke="#333" stroke-width="0.08" font-family="'Liberation Serif','Times New Roman',serif" text-rendering="geometricPrecision">−30</text>
<text x="306.00" y="251.81" font-size="7.0" text-anchor="end" fill="#333" stroke="#333" stroke-width="0.08" font-family="'Liberation Serif','Times New Roman',serif" text-rendering="geometricPrecision">−20</text>
<text x="306.00" y="238.42" font-size="7.0" text-anchor="end" fill="#333" stroke="#333" stroke-width="0.08" font-family="'Liberation Serif','Times New Roman',serif" text-rendering="geometricPrecision">−10</text>
<text x="306.00" y="225.03" font-size="7.0" text-anchor="end" fill="#333" stroke="#333" stroke-width="0.08" font-family="'Liberation Serif','Times New Roman',serif" text-rendering="geometricPrecision">0</text>
<text x="306.00" y="211.64" font-size="7.0" text-anchor="end" fill="#333" stroke="#333" stroke-width="0.08" font-family="'Liberation Serif','Times New Roman',serif" text-rendering="geometricPrecision">10</text>
<text x="306.00" y="198.25" font-size="7.0" text-anchor="end" fill="#333" stroke="#333" stroke-width="0.08" font-family="'Liberation Serif','Times New Roman',serif" text-rendering="geometricPrecision">20</text>
<text x="426.10" y="340.35" font-size="8.4" text-anchor="middle" textLength="82.8" lengthAdjust="spacingAndGlyphs" fill="#1c1c1c" stroke="#1c1c1c" stroke-width="0.13" font-family="'Liberation Serif','Times New Roman',serif" text-rendering="geometricPrecision">GPS (displacement/mm)</text>
<text transform="translate(291.40,256.20) rotate(-90)" font-size="8.4" text-anchor="middle" textLength="129.0" lengthAdjust="spacingAndGlyphs" fill="#1c1c1c" stroke="#1c1c1c" stroke-width="0.13" font-family="'Liberation Serif','Times New Roman',serif" text-rendering="geometricPrecision">SBAS-PS-InSAR (displacement/mm)</text>
<rect x="316.53" y="199.81" width="67.87" height="23.57" fill="#FBEBB0" stroke="#a59b70" stroke-width="0.7"/>
<path d="M316.53,207.43h67.87 M316.53,215.25h67.87 M341.93,199.81v23.57" stroke="#ddd09c" stroke-width="0.3" fill="none"/>
<text x="318.16" y="205.40" font-size="4.88" fill="#4038F2" stroke="#4038F2" stroke-width="0.03" font-family="'Liberation Serif','Times New Roman',serif" text-rendering="geometricPrecision">Intercept</text>
<text x="363.67" y="204.90" font-size="4.88" text-anchor="middle" fill="#4038F2" stroke="#4038F2" stroke-width="0.03" font-family="'Liberation Serif','Times New Roman',serif" text-rendering="geometricPrecision">−5.107 ± 4.057</text>
<text x="318.16" y="213.27" font-size="4.88" fill="#4038F2" stroke="#4038F2" stroke-width="0.03" font-family="'Liberation Serif','Times New Roman',serif" text-rendering="geometricPrecision">Slope</text>
<text x="363.67" y="212.77" font-size="4.88" text-anchor="middle" fill="#4038F2" stroke="#4038F2" stroke-width="0.03" font-family="'Liberation Serif','Times New Roman',serif" text-rendering="geometricPrecision">0.2694 ± 0.03415</text>
<text x="318.16" y="221.14" font-size="4.88" fill="#4038F2" stroke="#4038F2" stroke-width="0.03" font-family="'Liberation Serif','Times New Roman',serif" text-rendering="geometricPrecision">Pearson’s r</text>
<text x="363.67" y="220.64" font-size="4.88" text-anchor="middle" fill="#4038F2" stroke="#4038F2" stroke-width="0.03" font-family="'Liberation Serif','Times New Roman',serif" text-rendering="geometricPrecision">0.8595</text>
</g>
<g id="plot4">
<rect x="36.40" y="379.30" width="225.40" height="118.05" fill="#FFEFB5"/>
<path d="M51.47,452.59 L56.38,450.94 L61.28,449.28 L66.19,447.63 L71.09,445.97 L76.00,444.31 L80.91,442.64 L85.81,440.98 L90.72,439.31 L95.62,437.64 L100.53,435.96 L105.43,434.29 L110.34,432.61 L115.24,430.93 L120.15,429.24 L125.05,427.56 L129.96,425.87 L134.86,424.18 L139.77,422.49 L144.68,420.79 L149.58,419.09 L154.49,417.39 L159.39,415.69 L164.30,413.99 L169.20,412.28 L174.11,410.57 L179.01,408.86 L183.92,407.14 L188.82,405.43 L193.73,403.71 L198.63,401.99 L203.54,400.26 L208.44,398.54 L213.35,396.81 L218.26,395.08 L223.16,393.35 L228.07,391.61 L232.97,389.87 L237.88,388.14 L242.78,386.39 L242.78,423.46 L237.88,425.08 L232.97,426.71 L228.07,428.34 L223.16,429.97 L218.26,431.60 L213.35,433.24 L208.44,434.88 L203.54,436.52 L198.63,438.16 L193.73,439.80 L188.82,441.45 L183.92,443.10 L179.01,444.75 L174.11,446.40 L169.20,448.06 L164.30,449.72 L159.39,451.38 L154.49,453.04 L149.58,454.71 L144.68,456.38 L139.77,458.05 L134.86,459.72 L129.96,461.40 L125.05,463.07 L120.15,464.75 L115.24,466.44 L110.34,468.12 L105.43,469.81 L100.53,471.50 L95.62,473.19 L90.72,474.89 L85.81,476.58 L80.91,478.28 L76.00,479.98 L71.09,481.69 L66.19,483.39 L61.28,485.10 L56.38,486.81 L51.47,488.53Z" fill="rgba(255,20,10,0.108)"/>
<circle cx="61.9" cy="450.9" r="1.32" fill="#00783F"/>
<circle cx="63.4" cy="461.6" r="1.32" fill="#00783F"/>
<circle cx="61.9" cy="464.2" r="1.32" fill="#00783F"/>
<circle cx="61.6" cy="466.2" r="1.32" fill="#00783F"/>
<circle cx="61.4" cy="468.0" r="1.32" fill="#00783F"/>
<circle cx="61.1" cy="469.8" r="1.32" fill="#00783F"/>
<circle cx="60.8" cy="471.6" r="1.32" fill="#00783F"/>
<circle cx="60.3" cy="473.2" r="1.32" fill="#00783F"/>
<circle cx="60.1" cy="475.0" r="1.32" fill="#00783F"/>
<circle cx="60.3" cy="476.8" r="1.32" fill="#00783F"/>
<circle cx="60.6" cy="478.6" r="1.32" fill="#00783F"/>
<circle cx="77.3" cy="437.7" r="1.32" fill="#00783F"/>
<circle cx="113.0" cy="432.8" r="1.32" fill="#00783F"/>
<circle cx="232.7" cy="407.9" r="1.32" fill="#00783F"/>
<circle cx="234.2" cy="408.7" r="1.32" fill="#00783F"/>
<circle cx="230.8" cy="409.6" r="1.32" fill="#00783F"/>
<circle cx="229.2" cy="411.7" r="1.32" fill="#00783F"/>
<circle cx="195.4" cy="424.3" r="1.32" fill="#00783F"/>
<path d="M51.47,465.64 L56.38,464.07 L61.28,462.49 L66.19,460.91 L71.09,459.32 L76.00,457.72 L80.91,456.12 L85.81,454.50 L90.72,452.88 L95.62,451.24 L100.53,449.60 L105.43,447.95 L110.34,446.28 L115.24,444.61 L120.15,442.92 L125.05,441.23 L129.96,439.52 L134.86,437.81 L139.77,436.08 L144.68,434.35 L149.58,432.60 L154.49,430.85 L159.39,429.09 L164.30,427.32 L169.20,425.54 L174.11,423.75 L179.01,421.96 L183.92,420.16 L188.82,418.36 L193.73,416.55 L198.63,414.74 L203.54,412.92 L208.44,411.09 L213.35,409.27 L218.26,407.44 L223.16,405.60 L228.07,403.77 L232.97,401.92 L237.88,400.08 L242.78,398.24 L242.78,411.61 L237.88,413.14 L232.97,414.66 L228.07,416.18 L223.16,417.71 L218.26,419.24 L213.35,420.78 L208.44,422.32 L203.54,423.86 L198.63,425.41 L193.73,426.96 L188.82,428.52 L183.92,430.08 L179.01,431.65 L174.11,433.22 L169.20,434.80 L164.30,436.39 L159.39,437.99 L154.49,439.59 L149.58,441.20 L144.68,442.82 L139.77,444.45 L134.86,446.09 L129.96,447.74 L125.05,449.40 L120.15,451.07 L115.24,452.76 L110.34,454.45 L105.43,456.15 L100.53,457.86 L95.62,459.58 L90.72,461.32 L85.81,463.06 L80.91,464.81 L76.00,466.57 L71.09,468.34 L66.19,470.11 L61.28,471.89 L56.38,473.68 L51.47,475.48Z" fill="rgba(255,10,0,0.27)"/>
<line x1="51.47" y1="470.56" x2="242.78" y2="404.93" stroke="#F5201A" stroke-width="1.3"/>
<rect x="36.40" y="379.30" width="225.40" height="118.05" fill="none" stroke="#55554e" stroke-width="1.0"/>
<path d="M36.40,497.35v3 M64.57,497.35v3 M92.75,497.35v3 M120.92,497.35v3 M149.10,497.35v3 M177.28,497.35v3 M205.45,497.35v3 M233.62,497.35v3 M261.80,497.35v3 M50.49,497.35v1.6 M78.66,497.35v1.6 M106.84,497.35v1.6 M135.01,497.35v1.6 M163.19,497.35v1.6 M191.36,497.35v1.6 M219.54,497.35v1.6 M247.71,497.35v1.6 M36.40,487.51h-3 M36.40,467.84h-3 M36.40,448.16h-3 M36.40,428.49h-3 M36.40,408.81h-3 M36.40,389.14h-3 M36.40,497.35h-1.6 M36.40,477.68h-1.6 M36.40,458.00h-1.6 M36.40,438.33h-1.6 M36.40,418.65h-1.6 M36.40,398.98h-1.6 M36.40,379.30h-1.6" stroke="#55554e" stroke-width="0.95" fill="none"/>
<text x="36.40" y="508.05" font-size="7.0" text-anchor="middle" fill="#333" stroke="#333" stroke-width="0.08" font-family="'Liberation Serif','Times New Roman',serif" text-rendering="geometricPrecision">−140</text>
<text x="64.57" y="508.05" font-size="7.0" text-anchor="middle" fill="#333" stroke="#333" stroke-width="0.08" font-family="'Liberation Serif','Times New Roman',serif" text-rendering="geometricPrecision">−120</text>
<text x="92.75" y="508.05" font-size="7.0" text-anchor="middle" fill="#333" stroke="#333" stroke-width="0.08" font-family="'Liberation Serif','Times New Roman',serif" text-rendering="geometricPrecision">−100</text>
<text x="120.92" y="508.05" font-size="7.0" text-anchor="middle" fill="#333" stroke="#333" stroke-width="0.08" font-family="'Liberation Serif','Times New Roman',serif" text-rendering="geometricPrecision">−80</text>
<text x="149.10" y="508.05" font-size="7.0" text-anchor="middle" fill="#333" stroke="#333" stroke-width="0.08" font-family="'Liberation Serif','Times New Roman',serif" text-rendering="geometricPrecision">−60</text>
<text x="177.28" y="508.05" font-size="7.0" text-anchor="middle" fill="#333" stroke="#333" stroke-width="0.08" font-family="'Liberation Serif','Times New Roman',serif" text-rendering="geometricPrecision">−40</text>
<text x="205.45" y="508.05" font-size="7.0" text-anchor="middle" fill="#333" stroke="#333" stroke-width="0.08" font-family="'Liberation Serif','Times New Roman',serif" text-rendering="geometricPrecision">−20</text>
<text x="233.62" y="508.05" font-size="7.0" text-anchor="middle" fill="#333" stroke="#333" stroke-width="0.08" font-family="'Liberation Serif','Times New Roman',serif" text-rendering="geometricPrecision">0</text>
<text x="261.80" y="508.05" font-size="7.0" text-anchor="middle" fill="#333" stroke="#333" stroke-width="0.08" font-family="'Liberation Serif','Times New Roman',serif" text-rendering="geometricPrecision">20</text>
<text x="30.80" y="489.81" font-size="7.0" text-anchor="end" fill="#333" stroke="#333" stroke-width="0.08" font-family="'Liberation Serif','Times New Roman',serif" text-rendering="geometricPrecision">−80</text>
<text x="30.80" y="470.14" font-size="7.0" text-anchor="end" fill="#333" stroke="#333" stroke-width="0.08" font-family="'Liberation Serif','Times New Roman',serif" text-rendering="geometricPrecision">−60</text>
<text x="30.80" y="450.46" font-size="7.0" text-anchor="end" fill="#333" stroke="#333" stroke-width="0.08" font-family="'Liberation Serif','Times New Roman',serif" text-rendering="geometricPrecision">−40</text>
<text x="30.80" y="430.79" font-size="7.0" text-anchor="end" fill="#333" stroke="#333" stroke-width="0.08" font-family="'Liberation Serif','Times New Roman',serif" text-rendering="geometricPrecision">−20</text>
<text x="30.80" y="411.11" font-size="7.0" text-anchor="end" fill="#333" stroke="#333" stroke-width="0.08" font-family="'Liberation Serif','Times New Roman',serif" text-rendering="geometricPrecision">0</text>
<text x="30.80" y="391.44" font-size="7.0" text-anchor="end" fill="#333" stroke="#333" stroke-width="0.08" font-family="'Liberation Serif','Times New Roman',serif" text-rendering="geometricPrecision">20</text>
<text x="149.10" y="521.25" font-size="8.4" text-anchor="middle" textLength="82.8" lengthAdjust="spacingAndGlyphs" fill="#1c1c1c" stroke="#1c1c1c" stroke-width="0.13" font-family="'Liberation Serif','Times New Roman',serif" text-rendering="geometricPrecision">GPS (displacement/mm)</text>
<text transform="translate(16.60,438.33) rotate(-90)" font-size="8.4" text-anchor="middle" textLength="140.7" lengthAdjust="spacingAndGlyphs" fill="#1c1c1c" stroke="#1c1c1c" stroke-width="0.13" font-family="'Liberation Serif','Times New Roman',serif" text-rendering="geometricPrecision">DInSAR-PS-Stacking (displacement/mm)</text>
<rect x="41.50" y="382.90" width="66.80" height="23.20" fill="#FBEBB0" stroke="#a59b70" stroke-width="0.7"/>
<path d="M41.50,390.40h66.80 M41.50,398.10h66.80 M66.50,382.90v23.20" stroke="#ddd09c" stroke-width="0.3" fill="none"/>
<text x="43.10" y="388.40" font-size="4.80" fill="#4038F2" stroke="#4038F2" stroke-width="0.03" font-family="'Liberation Serif','Times New Roman',serif" text-rendering="geometricPrecision">Intercept</text>
<text x="87.90" y="387.90" font-size="4.80" text-anchor="middle" fill="#4038F2" stroke="#4038F2" stroke-width="0.03" font-family="'Liberation Serif','Times New Roman',serif" text-rendering="geometricPrecision">0.7578 ± 3.112</text>
<text x="43.10" y="396.15" font-size="4.80" fill="#4038F2" stroke="#4038F2" stroke-width="0.03" font-family="'Liberation Serif','Times New Roman',serif" text-rendering="geometricPrecision">Slope</text>
<text x="87.90" y="395.65" font-size="4.80" text-anchor="middle" fill="#4038F2" stroke="#4038F2" stroke-width="0.03" font-family="'Liberation Serif','Times New Roman',serif" text-rendering="geometricPrecision">0.4913 ± 0.03184</text>
<text x="43.10" y="403.90" font-size="4.80" fill="#4038F2" stroke="#4038F2" stroke-width="0.03" font-family="'Liberation Serif','Times New Roman',serif" text-rendering="geometricPrecision">Pearson’s r</text>
<text x="87.90" y="403.40" font-size="4.80" text-anchor="middle" fill="#4038F2" stroke="#4038F2" stroke-width="0.03" font-family="'Liberation Serif','Times New Roman',serif" text-rendering="geometricPrecision">0.9568</text>
</g>
<g id="plot5">
<rect x="311.60" y="378.50" width="229.00" height="120.05" fill="#FFEFB5"/>
<path d="M327.34,445.26 L332.32,443.91 L337.30,442.55 L342.28,441.19 L347.26,439.82 L352.24,438.46 L357.22,437.09 L362.20,435.71 L367.18,434.34 L372.16,432.95 L377.14,431.57 L382.12,430.18 L387.10,428.79 L392.08,427.40 L397.06,426.00 L402.04,424.60 L407.02,423.19 L412.00,421.78 L416.98,420.37 L421.96,418.95 L426.94,417.53 L431.92,416.11 L436.90,414.69 L441.88,413.26 L446.86,411.82 L451.84,410.39 L456.82,408.95 L461.80,407.51 L466.78,406.06 L471.76,404.61 L476.74,403.16 L481.72,401.70 L486.70,400.24 L491.68,398.78 L496.66,397.32 L501.64,395.85 L506.62,394.37 L511.60,392.90 L516.58,391.42 L521.56,389.94 L521.56,435.46 L516.58,436.78 L511.60,438.09 L506.62,439.41 L501.64,440.74 L496.66,442.06 L491.68,443.39 L486.70,444.73 L481.72,446.06 L476.74,447.40 L471.76,448.74 L466.78,450.09 L461.80,451.44 L456.82,452.79 L451.84,454.14 L446.86,455.50 L441.88,456.87 L436.90,458.23 L431.92,459.60 L426.94,460.97 L421.96,462.35 L416.98,463.73 L412.00,465.11 L407.02,466.50 L402.04,467.89 L397.06,469.28 L392.08,470.68 L387.10,472.08 L382.12,473.48 L377.14,474.89 L372.16,476.30 L367.18,477.71 L362.20,479.13 L357.22,480.55 L352.24,481.97 L347.26,483.40 L342.28,484.83 L337.30,486.27 L332.32,487.70 L327.34,489.14Z" fill="rgba(255,20,10,0.108)"/>
<circle cx="337.4" cy="453.2" r="1.32" fill="#00783F"/>
<circle cx="339.3" cy="451.7" r="1.32" fill="#00783F"/>
<circle cx="337.8" cy="460.6" r="1.32" fill="#00783F"/>
<circle cx="337.4" cy="462.6" r="1.32" fill="#00783F"/>
<circle cx="337.1" cy="464.5" r="1.32" fill="#00783F"/>
<circle cx="336.8" cy="466.5" r="1.32" fill="#00783F"/>
<circle cx="336.4" cy="468.5" r="1.32" fill="#00783F"/>
<circle cx="336.1" cy="470.6" r="1.32" fill="#00783F"/>
<circle cx="335.8" cy="472.8" r="1.32" fill="#00783F"/>
<circle cx="335.8" cy="474.8" r="1.32" fill="#00783F"/>
<circle cx="335.9" cy="476.8" r="1.32" fill="#00783F"/>
<circle cx="336.1" cy="478.8" r="1.32" fill="#00783F"/>
<circle cx="335.9" cy="480.7" r="1.32" fill="#00783F"/>
<circle cx="353.4" cy="433.4" r="1.32" fill="#00783F"/>
<circle cx="389.6" cy="424.8" r="1.32" fill="#00783F"/>
<circle cx="509.7" cy="416.9" r="1.32" fill="#00783F"/>
<circle cx="511.2" cy="416.9" r="1.32" fill="#00783F"/>
<circle cx="512.7" cy="417.9" r="1.32" fill="#00783F"/>
<circle cx="508.3" cy="418.6" r="1.32" fill="#00783F"/>
<circle cx="507.7" cy="420.4" r="1.32" fill="#00783F"/>
<circle cx="473.0" cy="424.2" r="1.32" fill="#00783F"/>
<path d="M327.34,461.33 L332.32,460.10 L337.30,458.86 L342.28,457.61 L347.26,456.35 L352.24,455.08 L357.22,453.79 L362.20,452.50 L367.18,451.19 L372.16,449.87 L377.14,448.53 L382.12,447.18 L387.10,445.81 L392.08,444.42 L397.06,443.02 L402.04,441.60 L407.02,440.17 L412.00,438.72 L416.98,437.25 L421.96,435.78 L426.94,434.28 L431.92,432.78 L436.90,431.26 L441.88,429.73 L446.86,428.19 L451.84,426.64 L456.82,425.08 L461.80,423.51 L466.78,421.94 L471.76,420.36 L476.74,418.77 L481.72,417.18 L486.70,415.58 L491.68,413.98 L496.66,412.37 L501.64,410.76 L506.62,409.14 L511.60,407.52 L516.58,405.90 L521.56,404.27 L521.56,421.13 L516.58,422.30 L511.60,423.47 L506.62,424.65 L501.64,425.83 L496.66,427.01 L491.68,428.20 L486.70,429.39 L481.72,430.59 L476.74,431.79 L471.76,432.99 L466.78,434.21 L461.80,435.43 L456.82,436.66 L451.84,437.89 L446.86,439.14 L441.88,440.39 L436.90,441.66 L431.92,442.93 L426.94,444.22 L421.96,445.53 L416.98,446.84 L412.00,448.17 L407.02,449.52 L402.04,450.88 L397.06,452.26 L392.08,453.65 L387.10,455.06 L382.12,456.48 L377.14,457.93 L372.16,459.38 L367.18,460.86 L362.20,462.34 L357.22,463.84 L352.24,465.35 L347.26,466.88 L342.28,468.41 L337.30,469.96 L332.32,471.51 L327.34,473.07Z" fill="rgba(255,10,0,0.27)"/>
<line x1="327.34" y1="467.20" x2="521.56" y2="412.70" stroke="#F5201A" stroke-width="1.3"/>
<rect x="311.60" y="378.50" width="229.00" height="120.05" fill="none" stroke="#55554e" stroke-width="1.0"/>
<path d="M311.60,498.55v3 M340.23,498.55v3 M368.85,498.55v3 M397.48,498.55v3 M426.10,498.55v3 M454.73,498.55v3 M483.35,498.55v3 M511.98,498.55v3 M540.60,498.55v3 M325.91,498.55v1.6 M354.54,498.55v1.6 M383.16,498.55v1.6 M411.79,498.55v1.6 M440.41,498.55v1.6 M469.04,498.55v1.6 M497.66,498.55v1.6 M526.29,498.55v1.6 M311.60,491.40h-3 M311.60,476.35h-3 M311.60,461.29h-3 M311.60,446.24h-3 M311.60,431.19h-3 M311.60,416.13h-3 M311.60,401.08h-3 M311.60,386.03h-3 M311.60,483.87h-1.6 M311.60,468.82h-1.6 M311.60,453.77h-1.6 M311.60,438.71h-1.6 M311.60,423.66h-1.6 M311.60,408.61h-1.6 M311.60,393.55h-1.6 M311.60,378.50h-1.6" stroke="#55554e" stroke-width="0.95" fill="none"/>
<text x="311.60" y="509.25" font-size="7.0" text-anchor="middle" fill="#333" stroke="#333" stroke-width="0.08" font-family="'Liberation Serif','Times New Roman',serif" text-rendering="geometricPrecision">−140</text>
<text x="340.23" y="509.25" font-size="7.0" text-anchor="middle" fill="#333" stroke="#333" stroke-width="0.08" font-family="'Liberation Serif','Times New Roman',serif" text-rendering="geometricPrecision">−120</text>
<text x="368.85" y="509.25" font-size="7.0" text-anchor="middle" fill="#333" stroke="#333" stroke-width="0.08" font-family="'Liberation Serif','Times New Roman',serif" text-rendering="geometricPrecision">−100</text>
<text x="397.48" y="509.25" font-size="7.0" text-anchor="middle" fill="#333" stroke="#333" stroke-width="0.08" font-family="'Liberation Serif','Times New Roman',serif" text-rendering="geometricPrecision">−80</text>
<text x="426.10" y="509.25" font-size="7.0" text-anchor="middle" fill="#333" stroke="#333" stroke-width="0.08" font-family="'Liberation Serif','Times New Roman',serif" text-rendering="geometricPrecision">−60</text>
<text x="454.73" y="509.25" font-size="7.0" text-anchor="middle" fill="#333" stroke="#333" stroke-width="0.08" font-family="'Liberation Serif','Times New Roman',serif" text-rendering="geometricPrecision">−40</text>
<text x="483.35" y="509.25" font-size="7.0" text-anchor="middle" fill="#333" stroke="#333" stroke-width="0.08" font-family="'Liberation Serif','Times New Roman',serif" text-rendering="geometricPrecision">−20</text>
<text x="511.98" y="509.25" font-size="7.0" text-anchor="middle" fill="#333" stroke="#333" stroke-width="0.08" font-family="'Liberation Serif','Times New Roman',serif" text-rendering="geometricPrecision">0</text>
<text x="540.60" y="509.25" font-size="7.0" text-anchor="middle" fill="#333" stroke="#333" stroke-width="0.08" font-family="'Liberation Serif','Times New Roman',serif" text-rendering="geometricPrecision">20</text>
<text x="306.00" y="493.70" font-size="7.0" text-anchor="end" fill="#333" stroke="#333" stroke-width="0.08" font-family="'Liberation Serif','Times New Roman',serif" text-rendering="geometricPrecision">−50</text>
<text x="306.00" y="478.65" font-size="7.0" text-anchor="end" fill="#333" stroke="#333" stroke-width="0.08" font-family="'Liberation Serif','Times New Roman',serif" text-rendering="geometricPrecision">−40</text>
<text x="306.00" y="463.59" font-size="7.0" text-anchor="end" fill="#333" stroke="#333" stroke-width="0.08" font-family="'Liberation Serif','Times New Roman',serif" text-rendering="geometricPrecision">−30</text>
<text x="306.00" y="448.54" font-size="7.0" text-anchor="end" fill="#333" stroke="#333" stroke-width="0.08" font-family="'Liberation Serif','Times New Roman',serif" text-rendering="geometricPrecision">−20</text>
<text x="306.00" y="433.49" font-size="7.0" text-anchor="end" fill="#333" stroke="#333" stroke-width="0.08" font-family="'Liberation Serif','Times New Roman',serif" text-rendering="geometricPrecision">−10</text>
<text x="306.00" y="418.43" font-size="7.0" text-anchor="end" fill="#333" stroke="#333" stroke-width="0.08" font-family="'Liberation Serif','Times New Roman',serif" text-rendering="geometricPrecision">0</text>
<text x="306.00" y="403.38" font-size="7.0" text-anchor="end" fill="#333" stroke="#333" stroke-width="0.08" font-family="'Liberation Serif','Times New Roman',serif" text-rendering="geometricPrecision">10</text>
<text x="306.00" y="388.33" font-size="7.0" text-anchor="end" fill="#333" stroke="#333" stroke-width="0.08" font-family="'Liberation Serif','Times New Roman',serif" text-rendering="geometricPrecision">20</text>
<text x="426.10" y="522.45" font-size="8.4" text-anchor="middle" textLength="82.8" lengthAdjust="spacingAndGlyphs" fill="#1c1c1c" stroke="#1c1c1c" stroke-width="0.13" font-family="'Liberation Serif','Times New Roman',serif" text-rendering="geometricPrecision">GPS (displacement/mm)</text>
<text transform="translate(291.40,438.52) rotate(-90)" font-size="8.4" text-anchor="middle" textLength="129.0" lengthAdjust="spacingAndGlyphs" fill="#1c1c1c" stroke="#1c1c1c" stroke-width="0.13" font-family="'Liberation Serif','Times New Roman',serif" text-rendering="geometricPrecision">SBAS-PS-InSAR (displacement/mm)</text>
<rect x="316.53" y="382.36" width="67.87" height="23.57" fill="#FBEBB0" stroke="#a59b70" stroke-width="0.7"/>
<path d="M316.53,389.98h67.87 M316.53,397.80h67.87 M341.93,382.36v23.57" stroke="#ddd09c" stroke-width="0.3" fill="none"/>
<text x="318.16" y="387.95" font-size="4.88" fill="#4038F2" stroke="#4038F2" stroke-width="0.03" font-family="'Liberation Serif','Times New Roman',serif" text-rendering="geometricPrecision">Intercept</text>
<text x="363.67" y="387.45" font-size="4.88" text-anchor="middle" fill="#4038F2" stroke="#4038F2" stroke-width="0.03" font-family="'Liberation Serif','Times New Roman',serif" text-rendering="geometricPrecision">0.4918 ± 2.501</text>
<text x="318.16" y="395.82" font-size="4.88" fill="#4038F2" stroke="#4038F2" stroke-width="0.03" font-family="'Liberation Serif','Times New Roman',serif" text-rendering="geometricPrecision">Slope</text>
<text x="363.67" y="395.32" font-size="4.88" text-anchor="middle" fill="#4038F2" stroke="#4038F2" stroke-width="0.03" font-family="'Liberation Serif','Times New Roman',serif" text-rendering="geometricPrecision">0.2668 ± 0.02558</text>
<text x="318.16" y="403.69" font-size="4.88" fill="#4038F2" stroke="#4038F2" stroke-width="0.03" font-family="'Liberation Serif','Times New Roman',serif" text-rendering="geometricPrecision">Pearson’s r</text>
<text x="363.67" y="403.19" font-size="4.88" text-anchor="middle" fill="#4038F2" stroke="#4038F2" stroke-width="0.03" font-family="'Liberation Serif','Times New Roman',serif" text-rendering="geometricPrecision">0.9120</text>
</g>
<text x="280.0" y="172.1" font-size="10.4" font-weight="bold" text-anchor="middle" fill="#1c1c1c" stroke="#1c1c1c" stroke-width="0.13" font-family="'Liberation Serif','Times New Roman',serif" text-rendering="geometricPrecision">(a)</text>
<text x="280.2" y="354.3" font-size="10.9" font-weight="bold" text-anchor="middle" fill="#1c1c1c" stroke="#1c1c1c" stroke-width="0.13" font-family="'Liberation Serif','Times New Roman',serif" text-rendering="geometricPrecision">(b)</text>
<text x="280.1" y="536.5" font-size="10.4" font-weight="bold" text-anchor="middle" fill="#1c1c1c" stroke="#1c1c1c" stroke-width="0.13" font-family="'Liberation Serif','Times New Roman',serif" text-rendering="geometricPrecision">(c)</text>
</svg>
</body></html>
